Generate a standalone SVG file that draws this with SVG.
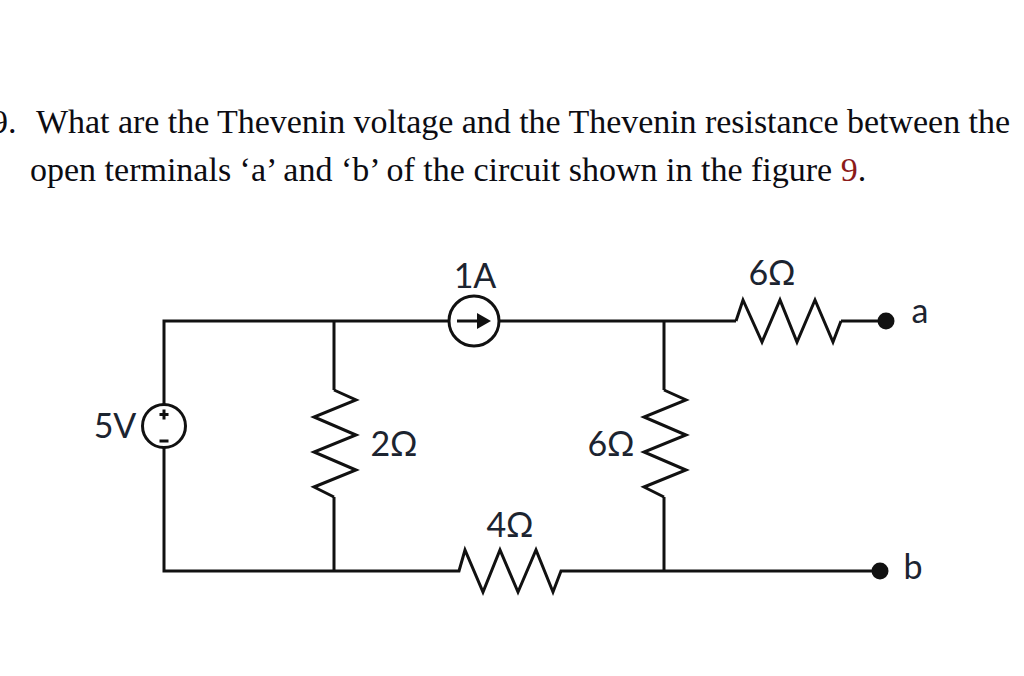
<svg xmlns="http://www.w3.org/2000/svg" width="1024" height="676" viewBox="0 0 1024 676">
<style>
.w{fill:none;stroke:#111;stroke-width:3;stroke-linejoin:miter}
.q{font-family:"Liberation Serif",serif;font-size:34px;fill:#0c0c12}
.l{font-family:"Lato","Open Sans",sans-serif;font-size:34px;fill:#1c2430;text-anchor:middle}
.d{fill:#111}
</style>
<rect width="1024" height="676" fill="#fff"/>
<text class="q" x="-9" y="133">9.</text>
<text class="q" x="36" y="133" textLength="974" lengthAdjust="spacing">What are the Thevenin voltage and the Thevenin resistance between the</text>
<text class="q" x="30" y="181">open terminals ‘a’ and ‘b’ of the circuit shown in the figure <tspan fill="#8b1a1a">9</tspan>.</text>
<g id="connectors">
<path class="w" d="M449 321H164V404M164 448V571H457M334 321V390M334 497V571M499 321H736M664 321V390M664 497V571M563 571H880M841 321H887"/>
</g>
<g id="source-5v">
<circle class="w" cx="164" cy="426" r="21.5"/>
<path class="w" d="M164 409.500V419.500M159.500 414.500H168.500M159.500 441H168.500"/>
<text class="l" x="115" y="438">5V</text>
</g>
<g id="source-1a">
<circle class="w" cx="474" cy="321" r="25"/>
<path class="w" d="M457 321H480"/>
<path class="d" d="M477 313L491 321L477 329Z"/>
<text class="l" x="475" y="288">1A</text>
</g>
<g id="r-2">
<path class="w" d="M334 390L356 400L314 417L356 435L314 452L356 470L314 487L334 497"/>
<text class="l" x="394" y="456">2Ω</text>
</g>
<g id="r-6-shunt">
<path class="w" d="M664 390L686 400L644 417L686 435L644 452L686 470L644 487L664 497"/>
<text class="l" x="611" y="456">6Ω</text>
</g>
<g id="r-4">
<path class="w" d="M457 571H459L465 550L483 592L500 550L518 592L536 550L553 592L561 571H563"/>
<text class="l" x="510" y="537">4Ω</text>
</g>
<g id="r-6-series">
<path class="w" d="M736 321L743 300L762 342L780 300L797 342L815 300L833 342L841 321"/>
<text class="l" x="772" y="285">6Ω</text>
</g>
<g id="terminal-a">
<circle class="d" cx="886" cy="321" r="8.500"/>
<text class="l" x="920" y="323">a</text>
</g>
<g id="terminal-b">
<circle class="d" cx="880" cy="571" r="8.500"/>
<text class="l" x="913" y="579">b</text>
</g>
</svg>
